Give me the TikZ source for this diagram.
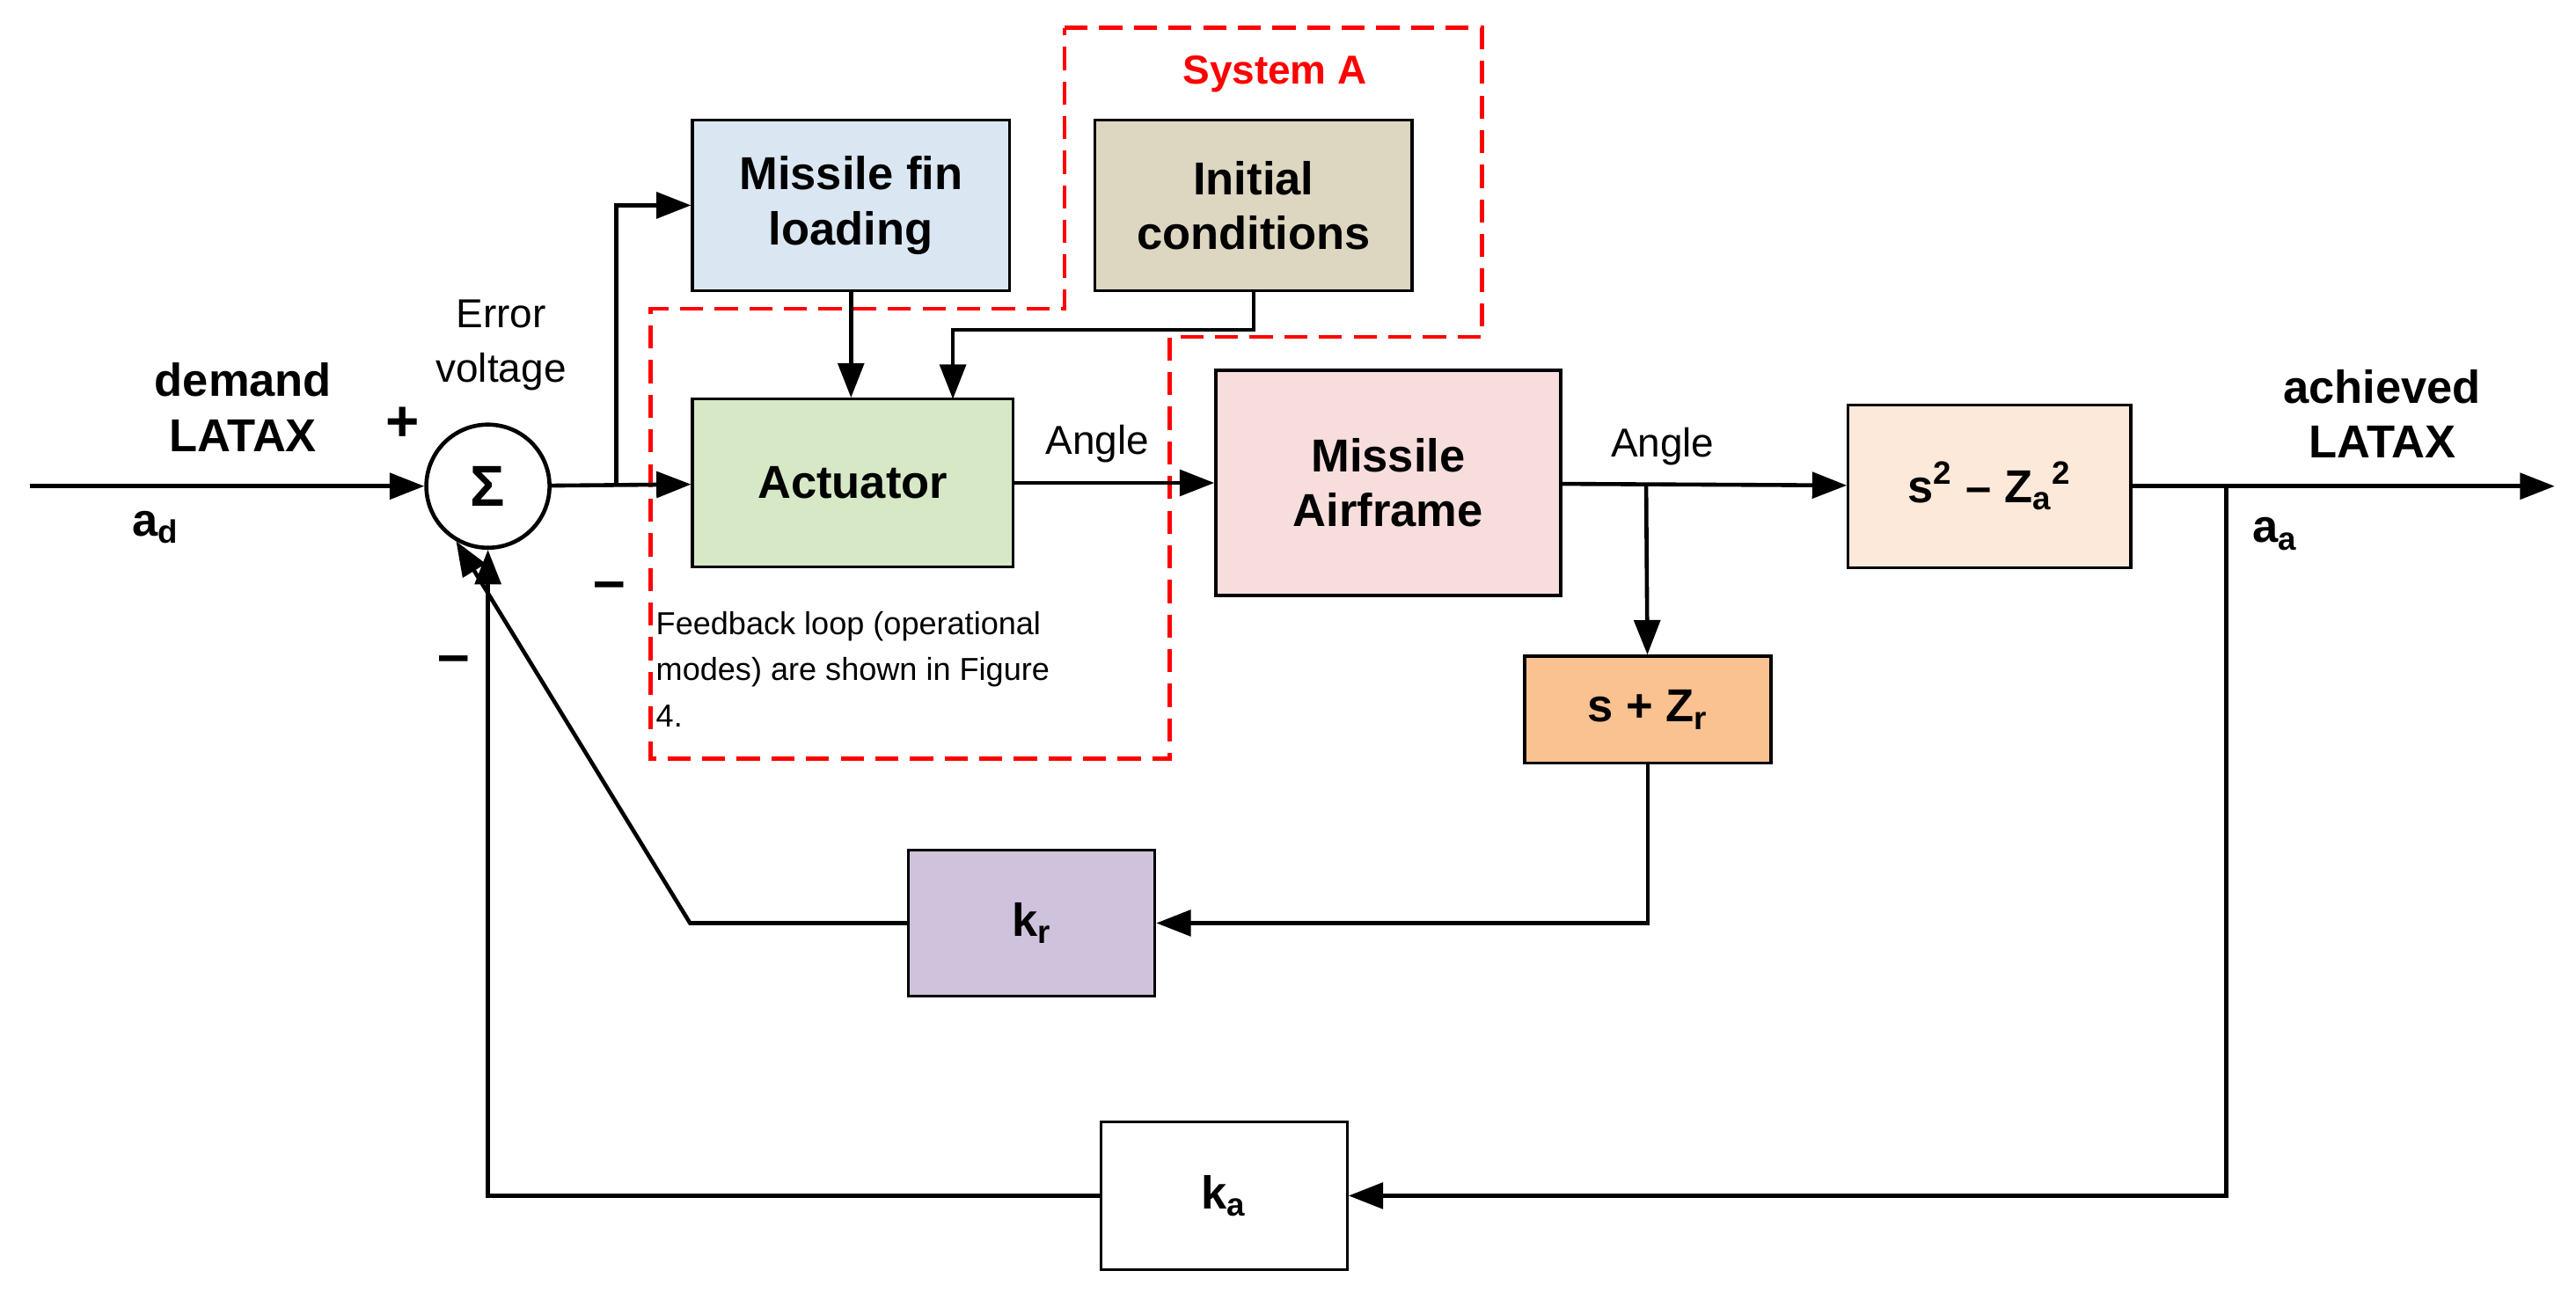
\documentclass[tikz,border=0pt]{standalone}
\usepackage{fontspec}
\setmainfont{Liberation Sans}
\usetikzlibrary{calc, arrows.meta}
\definecolor{finblue}{HTML}{DAE7F3}
\definecolor{initc}{HTML}{DDD6C1}
\definecolor{actgreen}{HTML}{D6E8C6}
\definecolor{airpink}{HTML}{F8DDDD}
\definecolor{szpeach}{HTML}{FDE9D9}
\definecolor{szorange}{HTML}{FAC191}
\definecolor{krpurple}{HTML}{CFC2DC}
\tikzset{
    blk/.style={draw, line width=1pt, font=\fontsize{16}{19}\selectfont\bfseries, align=center, inner sep=0pt},
    sig/.style={line width=1.4pt, -{Triangle[length=12pt,width=9pt]}},
    wire/.style={line width=1.4pt},
    lbl/.style={font=\fontsize{16}{19}\selectfont\bfseries, align=left},
}
\begin{document}
\begin{tikzpicture}[x=0.02cm, y=-0.02cm]
        \useasboundingbox (0,0) rectangle (1568,791);
        % blocks
        \node[blk, fill=finblue, minimum width=3.86cm, minimum height=2.08cm] (fin) at (518,125) {Missile fin\\loading};
        \node[blk, fill=initc, minimum width=3.86cm, minimum height=2.08cm] (init) at (763,125) {Initial\\conditions};
        \node[blk, fill=actgreen, minimum width=3.9cm, minimum height=2.04cm] (act) at (519,294) {Actuator};
        \node[blk, fill=airpink, minimum width=4.2cm, minimum height=2.74cm] (air) at (845,294) {Missile\\Airframe};
        \node[blk, fill=szpeach, minimum width=3.44cm, minimum height=1.98cm] (sz) at (1211,296) {s\textsuperscript{2} – Z\textsubscript{a}\textsuperscript{2}};
        \node[blk, fill=szorange, minimum width=3.0cm, minimum height=1.3cm] (szr) at (1003,432) {s + Z\textsubscript{r}};
        \node[blk, fill=krpurple, minimum width=3.0cm, minimum height=1.78cm] (kr) at (628,562) {k\textsubscript{r}};
        \node[blk, fill=white, minimum width=3.0cm, minimum height=1.8cm] (ka) at (745,728) {k\textsubscript{a}};
        \node[draw, circle, line width=1.4pt, minimum size=1.5cm, inner sep=0pt, font=\fontsize{20}{22}\selectfont\bfseries] (sum) at (297,296) {Σ};
        % system A
        \draw[red, dashed, line width=1.4pt, dash pattern=on 8pt off 4pt] (648,17) -- (902,17) -- (902,205) -- (712,205) -- (712,462) -- (396,462) -- (396,188) -- (648,188) -- cycle;
        \node[red, font=\fontsize{14}{17}\selectfont\bfseries] (sysa) at (776,45) {System A};
        % coordinates
        \coordinate (in) at (18,296);
        \coordinate (split) at (375,296);
        \coordinate (out) at (1555,296);
        \coordinate (tapz) at (1002,296);
        \coordinate (tapa) at (1355,296);
        % signals
        \draw[sig] (in) -- (sum);
        \draw[sig] (sum) -- (act);
        \draw[sig] (split) |- (fin.west);
        \draw[sig] (fin) -- (act.north -| fin);
        \draw[sig] (init.south) -- ++(0,23) -| (580,243);
        \draw[sig] (act) -- (air);
        \draw[sig] (air) -- (sz);
        \draw[sig] (sz) -- (out);
        \draw[sig] (tapz) -- (szr);
        \draw[sig] (szr.south) |- (kr.east);
        \draw[sig] (kr.west) -- (420,562) -- (sum.-120);
        \draw[sig] (tapa) |- (ka.east);
        \draw[sig] (ka.west) -| (sum.south);
        % labels
        \node[lbl, align=center] (dem) at (148,248) {demand\\LATAX};
        \node[lbl] (ad) at (95,321) {a\textsubscript{d}};
        \node[lbl, align=center] (ach) at (1450,252) {achieved\\LATAX};
        \node[lbl] (aa) at (1385,325) {a\textsubscript{a}};
        \node[font=\fontsize{14}{19}\selectfont, align=center] (err) at (305,210) {Error\\voltage};
        \node[font=\fontsize{14}{17}\selectfont] (ang1) at (668,270) {Angle};
        \node[font=\fontsize{14}{17}\selectfont] (ang2) at (1012,272) {Angle};
        \node[font=\fontsize{20}{22}\selectfont\bfseries] (plus) at (245,258) {+};
        \node[font=\fontsize{20}{22}\selectfont\bfseries] (mna) at (371,360) {–};
        \node[font=\fontsize{20}{22}\selectfont\bfseries] (mnb) at (276,405) {–};
        \node[font=\fontsize{11}{16}\selectfont, align=left, anchor=north west, inner sep=0pt] (fb) at (399,372) {Feedback loop (operational\\modes) are shown in Figure\\4.};
    \end{tikzpicture}
\end{document}
